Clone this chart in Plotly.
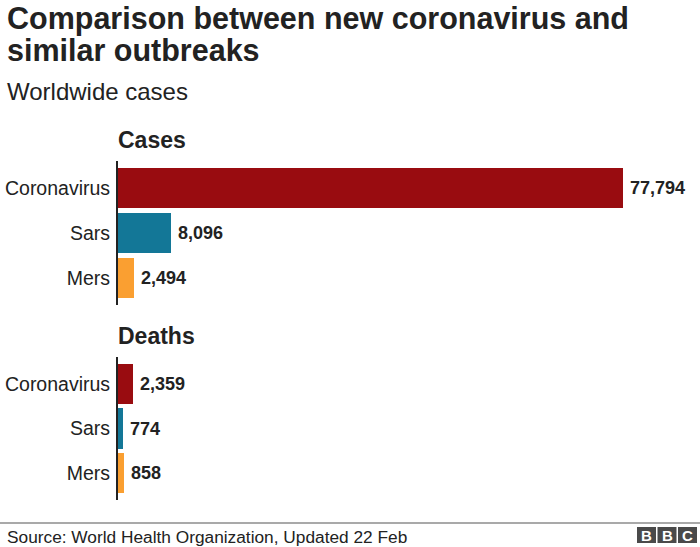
import plotly.graph_objects as go

outbreaks = ["Coronavirus", "Sars", "Mers"]
cases = [77794, 8096, 2494]
deaths = [2359, 774, 858]
bar_colors = ["#990c10", "#137797", "#fa9f31"]

W, H = 700, 547
FONT = "Liberation Sans, Arial, Helvetica, sans-serif"
INK = "#222222"


def py(px):
    """pixel row (from top) -> paper y"""
    return 1 - px / H


fig = go.Figure()

for values, yax in ((cases, "y"), (deaths, "y2")):
    fig.add_trace(
        go.Bar(
            x=values,
            y=outbreaks,
            orientation="h",
            yaxis=yax,
            width=0.9,
            marker=dict(color=bar_colors, line=dict(width=0)),
            hoverinfo="skip",
        )
    )
    # value labels, a few px right of each bar end
    for name, v in zip(outbreaks, values):
        fig.add_annotation(
            x=v, y=name, xref="x", yref=yax,
            text=f"<b>{v:,}</b>",
            xanchor="left", yanchor="middle", xshift=5,
            showarrow=False,
            font=dict(family=FONT, size=18, color=INK),
        )

yaxis_common = dict(
    type="category",
    range=[2.6, -0.6],
    showgrid=False,
    zeroline=False,
    showline=True,
    linecolor=INK,
    linewidth=2,
    ticks="",
    ticklabelstandoff=2,
    tickfont=dict(family=FONT, size=19.5, color=INK),
    anchor="x",
    fixedrange=True,
)

fig.update_layout(
    width=W,
    height=H,
    margin=dict(l=0, r=0, t=0, b=0),
    paper_bgcolor="white",
    plot_bgcolor="white",
    showlegend=False,
    bargap=0,
    xaxis=dict(
        domain=[118 / W, (118 + 85000 * 505 / 77794) / W],
        range=[0, 85000],
        visible=False,
        fixedrange=True,
    ),
    yaxis=dict(domain=[py(305), py(161)], **yaxis_common),
    yaxis2=dict(domain=[py(500), py(357)], **yaxis_common),
    font=dict(family=FONT, color=INK),
)

texts = [
    ("Comparison between new coronavirus and", 5, 18, 30.5, True),
    ("similar outbreaks", 5, 50, 30.5, True),
    ("Worldwide cases", 5, 91.5, 24, False),
    ("Cases", 116, 140, 23, True),
    ("Deaths", 116, 336, 23, True),
    ("Source: World Health Organization, Updated 22 Feb", 5, 537, 17.3, False),
]
for txt, x, y, size, bold in texts:
    fig.add_annotation(
        text=f"<b>{txt}</b>" if bold else txt,
        xref="paper", yref="paper",
        x=x / W, y=py(y),
        xanchor="left", yanchor="middle",
        showarrow=False,
        font=dict(family=FONT, size=size, color=INK),
    )

# footer rule
fig.add_shape(
    type="line", xref="paper", yref="paper",
    x0=0, x1=1, y0=py(523), y1=py(523),
    line=dict(color="#8c8c8c", width=1.5),
)

# BBC blocks
for i, letter in enumerate("BBC"):
    x0 = 637 + i * 20.5
    fig.add_shape(
        type="rect", xref="paper", yref="paper",
        x0=x0 / W, x1=(x0 + 19) / W, y0=py(543), y1=py(527),
        fillcolor="#4a4a4a", line=dict(width=0),
    )
    fig.add_annotation(
        text=f"<b>{letter}</b>",
        xref="paper", yref="paper",
        x=(x0 + 9.5) / W, y=py(535),
        xanchor="center", yanchor="middle",
        showarrow=False,
        font=dict(family=FONT, size=15, color="white"),
    )

# page has an 8px body margin by default; drop it so the figure fills the window
fig.write_html(
    "out.html",
    config={"displayModeBar": False},
    post_script="document.body.style.margin='0';",
)
